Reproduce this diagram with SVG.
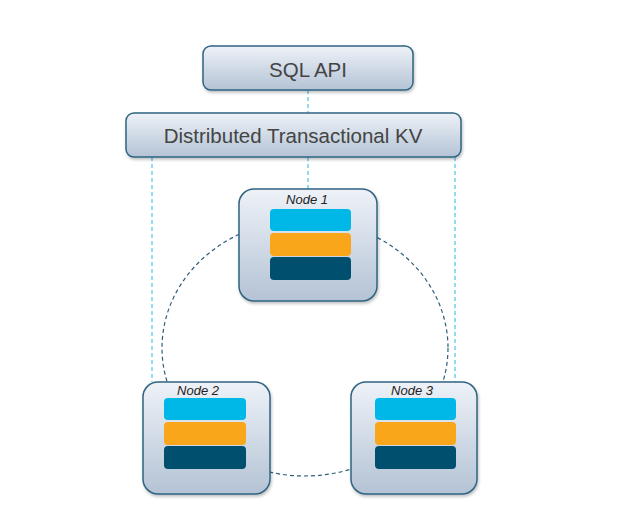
<svg xmlns="http://www.w3.org/2000/svg" width="624" height="529" viewBox="0 0 624 529">
<defs>
<linearGradient id="g" x1="0" y1="0" x2="0" y2="1">
<stop offset="0" stop-color="#eef2f8"/>
<stop offset="1" stop-color="#b4c3d5"/>
</linearGradient>
<filter id="sh" x="-10%" y="-10%" width="125%" height="130%">
<feDropShadow dx="1" dy="2" stdDeviation="1.5" flood-color="#000" flood-opacity="0.25"/>
</filter>
<style>
.box{fill:url(#g);stroke:#2f6482;stroke-width:1.5;filter:url(#sh)}
.t{font-family:"Liberation Sans",Arial,sans-serif;text-anchor:middle}
.big{font-size:20.5px;fill:#444}
.lbl{font-size:13px;font-style:italic;fill:#222}
.lb{stroke:#4fc3ea;stroke-width:1.2;stroke-dasharray:4 3;fill:none}
.ring{stroke:#2e5f7a;stroke-width:1.2;stroke-dasharray:4 3;fill:none}
.c{fill:#00b8e8}
.o{fill:#faa61a}
.d{fill:#004f6f}
</style>
</defs>
<rect width="624" height="529" fill="#fff"/>
<g id="connectors">
<line class="lb" x1="308" y1="90" x2="308" y2="113"/>
<line class="lb" x1="308" y1="157" x2="308" y2="189"/>
<line class="lb" x1="152" y1="157" x2="152" y2="382"/>
<line class="lb" x1="455" y1="157" x2="455" y2="382"/>
<ellipse class="ring" cx="305" cy="348" rx="143" ry="128"/>
</g>
<g id="sql-api">
<rect class="box" x="203" y="46" width="210" height="44" rx="8"/>
<text class="t big" x="308" y="77">SQL API</text>
</g>
<g id="kv">
<rect class="box" x="126" y="113" width="335" height="44" rx="8"/>
<text class="t big" x="293" y="143">Distributed Transactional KV</text>
</g>
<g id="node1">
<rect class="box" x="239" y="189" width="138" height="112" rx="15"/>
<text class="t lbl" x="307" y="204">Node 1</text>
<rect class="c" x="270" y="209" width="81" height="22" rx="4"/>
<rect class="o" x="270" y="233" width="81" height="23" rx="4"/>
<rect class="d" x="270" y="257" width="81" height="23" rx="4"/>
</g>
<g id="node2">
<rect class="box" x="143" y="382" width="127" height="112" rx="15"/>
<text class="t lbl" x="198" y="395">Node 2</text>
<rect class="c" x="164" y="398" width="82" height="22" rx="4"/>
<rect class="o" x="164" y="422" width="82" height="23" rx="4"/>
<rect class="d" x="164" y="446" width="82" height="23" rx="4"/>
</g>
<g id="node3">
<rect class="box" x="351" y="382" width="126" height="112" rx="15"/>
<text class="t lbl" x="412" y="395">Node 3</text>
<rect class="c" x="375" y="398" width="81" height="22" rx="4"/>
<rect class="o" x="375" y="422" width="81" height="23" rx="4"/>
<rect class="d" x="375" y="446" width="81" height="23" rx="4"/>
</g>
</svg>
